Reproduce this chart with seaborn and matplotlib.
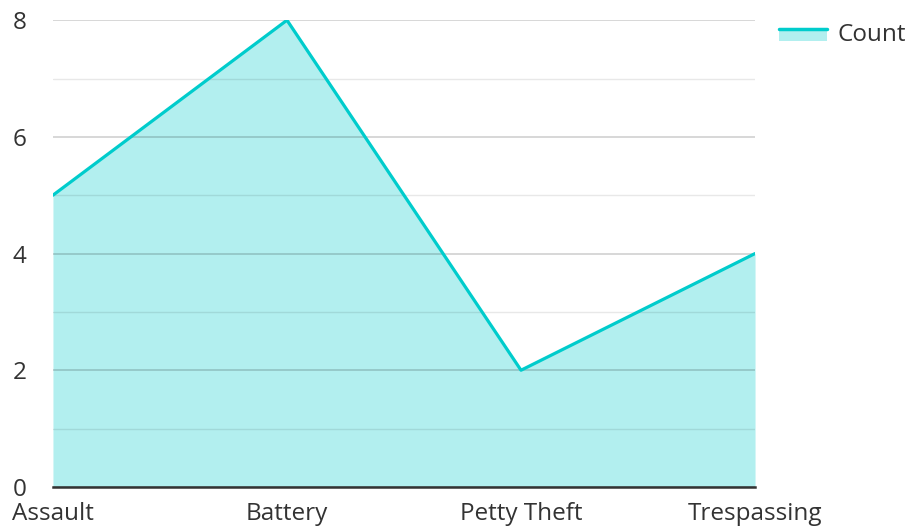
import pandas as pd
import matplotlib.pyplot as plt
import seaborn as sns
from matplotlib.lines import Line2D
from matplotlib.patches import Rectangle
from matplotlib.legend_handler import HandlerBase
from matplotlib.ticker import MultipleLocator

categories = ["Assault", "Battery", "Petty Theft", "Trespassing"]
counts = [5, 8, 2, 4]

LINE = "#00cccc"
FILL = "#b2efef"


class AreaHandler(HandlerBase):
    # filled box with the line along its top edge, like the reference legend
    def create_artists(self, legend, orig_handle, xdescent, ydescent,
                       width, height, fontsize, trans):
        top = height * 0.75
        rect = Rectangle((-xdescent, -ydescent), width, top, facecolor=FILL,
                         edgecolor="none", transform=trans)
        line = Line2D([-xdescent, -xdescent + width], [top, top], color=LINE,
                      linewidth=2.5, transform=trans)
        return [rect, line]


sns.set_theme(style="white")
plt.rcParams["font.family"] = ["Open Sans", "DejaVu Sans"]

df = pd.DataFrame({"category": categories, "count": counts})
df["pos"] = range(len(df))

fig = plt.figure(figsize=(9.13, 5.31), dpi=100)
ax = fig.add_axes([0.058, 0.083, 0.769, 0.879])

ax.fill_between(df["pos"], df["count"], 0, color=FILL, linewidth=0, zorder=1)
sns.lineplot(data=df, x="pos", y="count", color=LINE, linewidth=2.3, ax=ax, zorder=3)

ax.set_xlim(0, len(df) - 1)
ax.set_ylim(0, 8)
ax.set_xticks(df["pos"])
ax.set_xticklabels(categories)
ax.yaxis.set_major_locator(MultipleLocator(2))
ax.yaxis.set_minor_locator(MultipleLocator(1))
ax.grid(axis="y", which="major", color="black", alpha=0.2, linewidth=1.1, zorder=2)
ax.grid(axis="y", which="minor", color="black", alpha=0.09, linewidth=1.0, zorder=2)
ax.set_axisbelow(False)
ax.set_xlabel("")
ax.set_ylabel("")

for side in ["top", "right", "left"]:
    ax.spines[side].set_visible(False)
ax.spines["bottom"].set_color("#333333")
ax.spines["bottom"].set_linewidth(1.8)
ax.spines["bottom"].set_zorder(4)

ax.tick_params(axis="x", length=0, pad=11, labelsize=17.5, labelcolor="#333333")
ax.tick_params(axis="y", which="both", length=0, pad=19, labelsize=17.5, labelcolor="#333333")

fig.legend(
    [object()], ["Count"],
    handler_map={object: AreaHandler()},
    loc="upper left", bbox_to_anchor=(0.853, 0.956),
    borderpad=0, borderaxespad=0,
    frameon=False, fontsize=17.5, handlelength=2.0, handletextpad=0.4,
    labelcolor="#333333",
)

fig.savefig("out.png", dpi=100)
